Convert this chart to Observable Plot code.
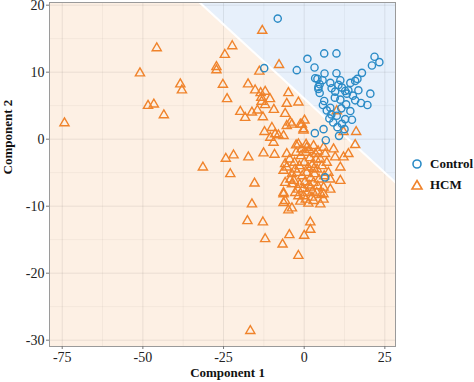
<!DOCTYPE html>
<html><head><meta charset="utf-8">
<script src="https://cdn.jsdelivr.net/npm/d3@7"></script>
<script src="https://cdn.jsdelivr.net/npm/@observablehq/plot@0.6"></script>
<style>
body{margin:0;background:#fff;}
#wrap{position:relative;width:474px;height:382px;font-family:"Liberation Serif","Times New Roman",serif;}
#wrap svg text{font-family:"Liberation Serif","Times New Roman",serif;}
#legend{position:absolute;left:411px;top:153px;font-weight:bold;font-size:13px;color:#111;}
#legend .row{display:flex;align-items:center;height:21px;}
#legend svg{margin-right:7px;overflow:visible;}
</style></head><body><div id="wrap"></div>
<script>
const groups = ["Control", "HCM"];
const groupColors = ["#2b8bc6", "#f0832b"];
const controlX = [-8.2,1.0,6.2,10.0,3.2,-2.3,-12.4,21.8,23.3,21.0,6.3,10.0,17.9,16.5,15.8,14.3,4.1,5.7,8.1,11.2,10.6,4.8,4.4,4.8,9.6,12.7,13.7,16.8,15.1,15.8,20.5,11.2,17.6,19.6,6.2,5.8,8.1,13.0,14.3,8.4,10.1,7.8,12.7,14.8,11.7,10.3,10.8,6.0,3.3,6.7,6.5,11.7,13.2,4.4,3.4,8.5,9.5,7.0,11.5,9.0,12.5];
const controlY = [18.0,12.0,12.8,12.8,10.7,10.3,10.6,12.3,11.5,11.0,9.8,9.85,9.9,9.0,8.7,8.4,9.0,8.8,8.4,8.8,8.1,8.2,7.5,6.9,7.1,7.2,7.3,7.3,6.5,5.8,6.8,5.9,5.4,5.1,5.7,5.1,4.7,5.2,4.2,3.7,3.5,3.1,3.0,2.9,2.3,1.8,0.5,1.5,0.9,-0.15,-5.7,7.7,6.8,7.8,9.1,7.6,6.2,4.3,4.6,2.5,1.5];
const hcmX = [-45.7,-50.9,-38.4,-37.9,-48.4,-46.6,-43.5,-74.3,
  -13.0,-22.3,-24.6,-27.2,-27.2,-13.9,-7.8,-25.2,-23.9,-17.4,-15.2,-13.5,-12.1,-13.3,-10.6,-13.2,-12.1,-4.9,-5.4,-9.4,-5.9,-19.8,-16.2,-14.5,-12.8,-18.3,-1.8,0.1,-1.2,-5.4,-10.0,-12.3,-9.0,-6.4,-10.5,-9.5,-0.2,12.2,16.1,15.8,10.1,-4.3,-3.8,-8.0,
  -31.4,-24.3,-21.9,-17.3,-12.6,-9.2,-22.9,-15.4,-5.4,-2.5,
  -16.2,-6.4,-6.4,-4.9,-3.8,-1.8,1.3,5.0,6.0,2.4,-17.6,-12.8,-12.1,-6.7,-4.6,0.0,1.9,1.9,-1.8,-16.7,
  -0.7,-0.2,-1.8,0.8,2.9,6.0,9.1,12.2,13.7,9.6,11.2,11.2,8.1,-5.4,-5.9,-6.4,-5.9,-3.8,-6.4,-5.9,-2.8,-0.2,1.9,3.9,6.0,2.9,6.0,8.1,-4.3,
  -2.5,-1.0,0.5,1.8,3.5,5.0,-3.0,-1.5,0.0,1.2,2.5,4.0,5.5,7.0,-2.2,-0.6,0.8,2.0,3.2,4.6,6.2,-3.2,-1.4,0.2,1.5,2.9,4.2,-1.9,-0.3,1.0,2.6,3.7,0.6,-0.8,1.6,4.3,-2.8,3.0,6.5,7.5,-4.5,-3.8,5.3,0.5,-1.2];
const hcmY = [13.6,9.85,8.2,7.3,5.0,5.2,3.6,2.4,
  16.2,13.9,12.6,10.8,10.3,10.1,11.1,8.15,6.0,8.2,7.3,6.9,7.1,6.2,6.0,5.6,5.1,6.9,5.3,4.4,3.8,4.1,4.0,4.3,3.3,3.2,5.5,2.8,2.2,2.0,1.7,1.1,0.75,0.5,0.24,-0.5,1.3,1.1,1.1,-0.85,4.2,2.5,2.2,0.6,
  -4.2,-2.9,-2.4,-2.7,-2.1,-2.3,-5.2,-6.6,-4.2,-0.9,
  -9.7,-8.2,-9.5,-10.6,-10.3,-8.5,-9.6,-9.7,-8.2,-8.7,-12.2,-12.4,-14.9,-15.7,-14.3,-14.4,-12.4,-13.5,-17.4,-28.6,
  2.2,1.5,-0.75,-1.25,-1.0,-1.25,-1.5,-2.7,-2.2,-2.7,-4.2,-6.2,-6.0,-2.2,-3.7,-4.7,-6.5,-6.7,-8.0,-9.2,-8.0,-8.5,-7.2,-8.0,-9.0,-9.2,-7.2,-7.5,-6.0,
  -2.0,-2.5,-2.0,-2.8,-2.2,-3.0,-3.5,-4.0,-3.5,-4.2,-3.8,-4.5,-4.0,-3.5,-5.0,-5.5,-5.0,-5.8,-5.2,-6.0,-5.5,-6.2,-6.8,-6.4,-6.9,-6.5,-7.0,-7.5,-7.4,-8.0,-7.8,-3.0,-0.8,-1.5,-1.6,-1.8,-4.5,-4.4,-2.2,-5.0,-3.0,-5.2,-8.3,-9.0,-9.3];
const xTicks = [-75, -50, -25, 0, 25];
const yTicks = [-30, -20, -10, 0, 10, 20];
const xMinor = [-62.5, -37.5, -12.5, 12.5];
const yMinor = [-25, -15, -5, 5, 15];
const boundaryX = [-32.4, 28.3];
const boundaryY = [20.4, -6.46];
const xDomain = [-78.94, 28.3];
const yDomain = [-30.94, 20.4];
const xLabel = "Component 1";
const yLabel = "Component 2";

const control = controlX.map((x, i) => ({x, y: controlY[i]}));
const hcm = hcmX.map((x, i) => ({x, y: hcmY[i]}));
const boundary = boundaryX.map((x, i) => ({x, y: boundaryY[i]}));
const serif = "Liberation Serif";

const chart = Plot.plot({
  width: 474, height: 382,
  marginLeft: 49, marginRight: 79, marginTop: 2, marginBottom: 36,
  x: {domain: xDomain},
  y: {domain: yDomain},
  style: {fontFamily: serif, fontSize: "14px", color: "#222", background: "transparent"},
  marks: [
    Plot.frame({fill: "#fdf0e4", stroke: null}),
    Plot.areaY(boundary, {x: "x", y1: "y", y2: yDomain[1], fill: "#e7f0fb"}),
    Plot.ruleX(xMinor, {stroke: "#000", strokeOpacity: 0.04}),
    Plot.ruleY(yMinor, {stroke: "#000", strokeOpacity: 0.04}),
    Plot.ruleX(xTicks, {stroke: "#000", strokeOpacity: 0.08}),
    Plot.ruleY(yTicks, {stroke: "#000", strokeOpacity: 0.08}),
    Plot.line(boundary, {x: "x", y: "y", stroke: "#fff", strokeWidth: 2.2}),
    Plot.dot(hcm, {x: "x", y: "y", symbol: "triangle", r: 3.4, stroke: groupColors[1], strokeWidth: 1.4, fill: "none"}),
    Plot.dot(control, {x: "x", y: "y", symbol: "circle", r: 3.6, stroke: groupColors[0], strokeWidth: 1.4, fill: "none"}),
    Plot.frame({stroke: "#9a9a9a"}),
    Plot.axisX({ticks: xTicks, tickFormat: d => String(d), tickSize: 3, tickPadding: 3, label: null, stroke: "#777", fill: "#222", fontSize: 14, fontFamily: serif}),
    Plot.axisY({ticks: yTicks, tickFormat: d => String(d), tickSize: 3, tickPadding: 2, label: null, stroke: "#777", fill: "#222", fontSize: 14, fontFamily: serif}),
    Plot.text([xLabel], {text: d => d, frameAnchor: "bottom", dy: 30, dx: 5, fontWeight: "bold", fontSize: 13, fill: "#111", fontFamily: serif}),
    Plot.text([yLabel], {text: d => d, frameAnchor: "left", dx: -42, rotate: -90, fontWeight: "bold", fontSize: 13, fill: "#111", fontFamily: serif})
  ]
});
const wrap = document.getElementById("wrap");
wrap.appendChild(chart);

const legend = document.createElement("div");
legend.id = "legend";
groups.forEach((g, i) => {
  const row = document.createElement("div");
  row.className = "row";
  const shape = i === 0
    ? `<circle cx="6" cy="6" r="4" fill="none" stroke="${groupColors[i]}" stroke-width="1.6"/>`
    : `<path d="M6,1.5 L11,10 L1,10 Z" fill="none" stroke="${groupColors[i]}" stroke-width="1.6"/>`;
  row.innerHTML = `<svg width="12" height="12">${shape}</svg><span>${g}</span>`;
  legend.appendChild(row);
});
wrap.appendChild(legend);
</script>
</body></html>
